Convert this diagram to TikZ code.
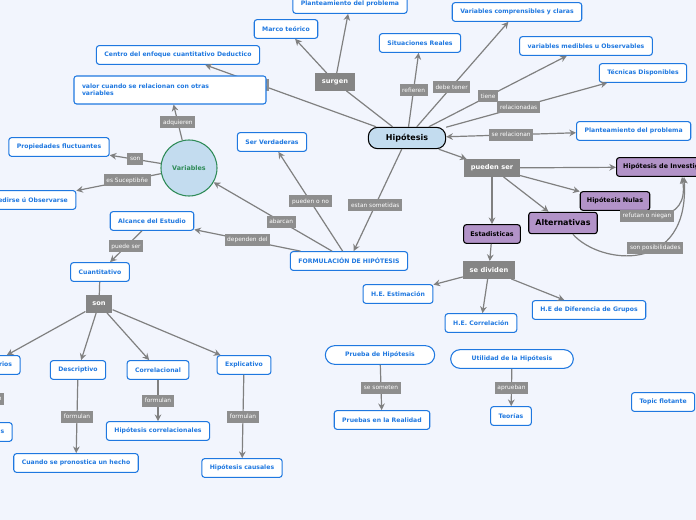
\documentclass[tikz,border=0pt]{standalone}
\usepackage{fontspec}
\setmainfont{DejaVu Sans}
\usetikzlibrary{arrows.meta}
\definecolor{bg}{HTML}{F2F5FD}
\definecolor{topicblue}{HTML}{1F78E0}
\definecolor{lblgray}{HTML}{8E8E8E}
\definecolor{darkgray}{HTML}{858585}
\definecolor{purp}{HTML}{B293C8}
\definecolor{hipblue}{HTML}{C3DCEF}
\definecolor{vargreen}{HTML}{2E8B57}
\begin{document}
\begin{tikzpicture}[x=0.75pt,y=-0.75pt,
topic/.style={
% boxes in blue
rectangle,rounded corners=2pt,draw=topicblue,fill=white,thick,
text=topicblue,font=\fontsize{4.6}{5.5}\selectfont\bfseries,
minimum height=14pt,inner xsep=6pt
},
pill/.style={topic,rounded corners=7pt},
lbl/.style={
rectangle,fill=lblgray,text=white,font=\fontsize{4.4}{5}\selectfont,
inner sep=2pt,minimum height=9pt
},
hub/.style={
rectangle,fill=darkgray,text=white,font=\fontsize{5}{6}\selectfont\bfseries,
minimum height=13pt,inner xsep=5pt
},
kind/.style={
rectangle,rounded corners=2pt,draw=black,thick,fill=purp,
font=\fontsize{4.8}{6}\selectfont\bfseries,minimum height=14pt,inner xsep=5pt
},
conn/.style={draw=gray,line width=0.9pt},
arr/.style={conn,-{Stealth[length=5pt,width=5pt]}}
]
\fill[bg] (0,0) rectangle (696,520);
\useasboundingbox (0,0) rectangle (696,520);
\clip (0,0) rectangle (696,520);
% Hipotesis and its branches
\node (hip) [pill,draw=black,fill=hipblue,text=black,font=\fontsize{6}{7}\selectfont\bfseries,minimum width=58pt,minimum height=16pt] at (407,138) {Hipótesis};
\node (surgen) [hub] at (335,82) {surgen};
\node (marco) [topic] at (286,29) {Marco teórico};
\node (plantop) [topic] at (350,4) {Planteamiento del problema};
\node (centro) [topic] at (178,55) {Centro del enfoque cuantitativo Deductico};
\node (sit) [topic] at (420,43) {Situaciones Reales};
\node (vcc) [topic] at (517,12) {Variables comprensibles y claras};
\node (vmo) [topic] at (586,46) {variables medibles u Observables};
\node (tec) [topic] at (643,73) {Técnicas Disponibles};
\node (planr) [topic,anchor=west] at (576,131) {Planteamiento del problema};
\draw[conn] (hip) -- (surgen);
\draw[arr] (surgen) -- (marco);
\draw[arr] (surgen) -- (plantop);
\draw[arr] (hip) -- node[lbl,pos=0.67]{son} (centro);
\draw[arr] (hip) -- node[lbl,pos=0.5]{refieren} (sit);
\draw[arr] (hip) -- node[lbl,pos=0.38]{debe tener} (vcc);
\draw[arr] (hip) -- node[lbl,pos=0.43]{tiene} (vmo);
\draw[arr] (hip) -- node[lbl,pos=0.45]{relacionadas} (tec);
\draw[conn,{Stealth[length=5pt,width=5pt]}-{Stealth[length=5pt,width=5pt]}] (hip) -- node[lbl]{se relacionan} (planr);
% Variables
\node (var) [circle,draw=vargreen,thick,fill=hipblue,text=vargreen,minimum size=42pt,font=\fontsize{4.8}{6}\selectfont\bfseries] at (189,168) {Variables};
\node (valor) [topic,text width=132pt,align=left,minimum height=21pt] at (170,90) {valor cuando se relacionan con otras\\variables};
\node (prop) [topic] at (59,147) {Propiedades fluctuantes};
\node (medir) [topic] at (30,200) {Medirse ú Observarse};
\draw[arr] (var) -- node[lbl]{adquieren} (valor);
\draw[arr] (var) -- node[lbl]{son} (prop);
\draw[arr] (var) -- node[lbl,pos=0.4]{es Suceptibñe} (medir);
% Formulacion
\node (form) [topic] at (349,261) {FORMULACIÓN DE HIPÓTESIS};
\node (ver) [topic] at (272,142) {Ser Verdaderas};
\node (alc) [topic] at (152,221) {Alcance del Estudio};
\node (cuant) [topic] at (100,272) {Cuantitativo};
\node (son) [hub] at (99,304) {son};
\draw[arr] (form) -- node[lbl,pos=0.43]{abarcan} (var);
\draw[arr] (form) -- node[lbl,pos=0.5]{pueden o no} (ver);
\draw[arr] (form) -- node[lbl,pos=0.5]{dependen del} (alc);
\draw[arr] (hip) -- node[lbl,pos=0.55]{estan sometidas} (form);
\draw[arr] (alc) -- node[lbl]{puede ser} (cuant);
\draw[conn] (cuant) -- (son);
% tipos de alcance
\node (expl) [topic] at (-11,365) {Exploratorios};
\node (desc) [topic] at (78,370) {Descriptivo};
\node (corr) [topic] at (158,370) {Correlacional};
\node (expv) [topic] at (244,365) {Explicativo};
\node (hex) [topic] at (-12,432) {Hipótesis};
\node (pron) [topic] at (76,463) {Cuando se pronostica un hecho};
\node (hcor) [topic] at (158,431) {Hipótesis correlacionales};
\node (hcau) [topic] at (242,468) {Hipótesis causales};
\draw[arr] (son) -- (expl);
\draw[arr] (son) -- (desc);
\draw[arr] (son) -- (corr);
\draw[arr] (son) -- (expv);
\draw[arr] (expl) -- node[lbl]{formulan} (hex);
\draw[arr] (desc) -- node[lbl]{formulan} (pron);
\draw[arr] (corr) -- node[lbl]{formulan} (hcor);
\draw[arr] (expv) -- node[lbl]{formulan} (hcau);
% tipos de hipotesis
\node (pueden) [hub] at (492,168) {pueden ser};
\node (inv) [kind,anchor=west] at (616,167) {Hipótesis de Investigación};
\node (nul) [kind] at (615,201) {Hipótesis Nulas};
\node (alt) [kind,font=\fontsize{6}{7}\selectfont\bfseries,minimum height=16pt] at (563,223) {Alternativas};
\node (est) [kind] at (492,234) {Estadisticas};
\draw[arr] (hip) -- (pueden);
\draw[arr] (pueden) -- (inv);
\draw[arr] (pueden) -- (nul);
\draw[arr] (pueden) -- (alt);
\draw[arr] (pueden) -- (est);
\draw[arr] (nul) .. controls (640,218) and (690,225) .. node[lbl,pos=0.3]{refutan o niegan} (682,177);
\draw[arr] (alt) .. controls (600,265) and (690,275) .. node[lbl,pos=0.6]{son posibilidades} (684,177);
\node (div) [hub] at (489,270) {se dividen};
\node (hest) [topic] at (398,294) {H.E. Estimación};
\node (hcr) [topic] at (481,323) {H.E. Correlación};
\node (hdif) [topic] at (589,310) {H.E de Diferencia de Grupos};
\draw[arr] (est) -- (div);
\draw[arr] (div) -- (hest);
\draw[arr] (div) -- (hcr);
\draw[arr] (div) -- (hdif);
% sueltos
\node (prueba) [pill,minimum width=82pt] at (380,355) {Prueba de Hipótesis};
\node (real) [topic] at (382,420) {Pruebas en la Realidad};
\node (util) [pill,minimum width=92pt] at (512,359) {Utilidad de la Hipótesis};
\node (teo) [topic] at (511,416) {Teorías};
\node (flot) [topic,anchor=west] at (631,402) {Topic flotante};
\draw[arr] (prueba) -- node[lbl]{se someten} (real);
\draw[arr] (util) -- node[lbl]{aprueban} (teo);
\end{tikzpicture}
\end{document}
